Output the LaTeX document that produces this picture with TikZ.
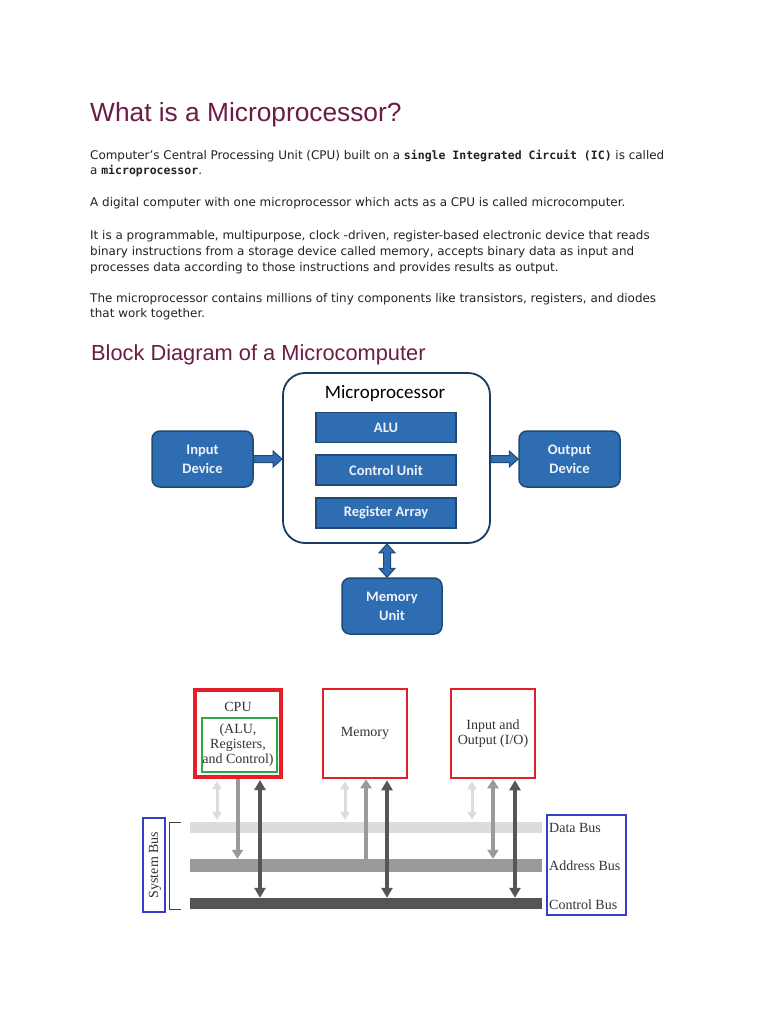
\documentclass[tikz,border=0pt]{standalone}
\usepackage{fontspec}
\usetikzlibrary{arrows.meta,calc}
\newfontfamily\arialf{Liberation Sans}
\newfontfamily\verdf{DejaVu Sans}
\newfontfamily\monof{DejaVu Sans Mono}
\newfontfamily\calibf{Carlito}
\newfontfamily\timesf{Liberation Serif}
\definecolor{ttl}{HTML}{6B1D45}
\definecolor{bodyc}{HTML}{222222}
\definecolor{blueF}{HTML}{2E6DB2}
\definecolor{blueD}{HTML}{1F4A75}
\definecolor{boxtxt}{HTML}{EEF2F8}
\definecolor{redB}{HTML}{E3202A}
\definecolor{greenB}{HTML}{2FA84B}
\definecolor{blueB}{HTML}{3B3BC6}
\definecolor{busL}{HTML}{DCDCDC}
\definecolor{busM}{HTML}{9A9A9A}
\definecolor{busD}{HTML}{555555}
\definecolor{srf}{HTML}{333333}
\newcommand{\monob}[1]{{\monof\bfseries\fontsize{11.5}{12}\selectfont #1}}
\tikzset{
  bodyline/.style={anchor=base west, inner sep=0pt, text=bodyc, font=\verdf\fontsize{11.95}{14}\selectfont},
  heading/.style={anchor=base west, inner sep=0pt, text=ttl},
  bluebox/.style={draw=blueD, line width=1.5pt, fill=blueF, rounded corners=8pt, text=boxtxt, align=center,
    font=\calibf\bfseries\fontsize{14.5}{19}\selectfont, inner sep=0pt},
  inbox/.style={draw=blueD, line width=1.5pt, fill=blueF, text=boxtxt, minimum width=140pt, minimum height=30pt,
    font=\calibf\bfseries\fontsize{14.5}{17}\selectfont, inner sep=0pt},
  blockarrow/.style={draw=blueD, line width=1pt, fill=blueF, line join=miter},
  redbox/.style={draw=redB, inner sep=0pt, text=srf, align=center, font=\timesf\fontsize{14}{15}\selectfont},
  bar/.style={inner sep=0pt, minimum width=352pt},
  busarrL/.style={draw=busL, line width=3pt, {Triangle[width=9pt,length=8pt]}-{Triangle[width=9pt,length=8pt]}},
  busarrM/.style={draw=busM, line width=4pt},
  busarrD/.style={draw=busD, line width=4.5pt, {Triangle[width=11pt,length=10pt]}-{Triangle[width=11pt,length=10pt]}},
  buslabel/.style={anchor=base west, inner sep=0pt, text=srf, font=\timesf\fontsize{14}{15}\selectfont},
}
\begin{document}
\begin{tikzpicture}[x=1pt,y=-1pt]
\useasboundingbox[fill=white] (0,0) rectangle (768,1024);

% ---------- Headings and text ----------
\node[heading, font=\arialf\fontsize{26.3}{30}\selectfont] (t1) at (90,122) {What is a Microprocessor?};
\node[bodyline] (l1) at (90,159.5) {Computer’s Central Processing Unit (CPU) built on a \monob{single Integrated Circuit (IC)} is called};
\node[bodyline] (l2) at (90,174.5) {a \monob{microprocessor}.};
\node[bodyline] (l3) at (90,207) {A digital computer with one microprocessor which acts as a CPU is called microcomputer.};
\node[bodyline] (l4) at (90,240) {It is a programmable, multipurpose, clock -driven, register-based electronic device that reads};
\node[bodyline] (l5) at (90,255.5) {binary instructions from a storage device called memory, accepts binary data as input and};
\node[bodyline] (l6) at (90,271) {processes data according to those instructions and provides results as output.};
\node[bodyline] (l7) at (90,302.5) {The microprocessor contains millions of tiny components like transistors, registers, and diodes};
\node[bodyline] (l8) at (90,317.5) {that work together.};
\node[heading, font=\arialf\fontsize{21.8}{26}\selectfont] (t2) at (91,360) {Block Diagram of a Microcomputer};

% ---------- Block diagram ----------
\node[draw=blueD!80!black, line width=1.8pt, fill=white, rounded corners=22pt, minimum width=207pt, minimum height=170pt, inner sep=0pt] (mp) at (386.5,458) {};
\node[inner sep=0pt, font=\calibf\fontsize{19}{22}\selectfont, text=black] (mpl) at (385,393) {Microprocessor};
\node[inbox] (alu) at (386,427.5) {ALU};
\node[inbox] (cu) at (386,470) {Control Unit};
\node[inbox] (ra) at (386,513) {Register Array};
\node[bluebox, minimum width=101pt, minimum height=56pt] (inp) at (202.5,459) {Input\\Device};
\node[bluebox, minimum width=101pt, minimum height=56pt] (outp) at (569.5,459) {Output\\Device};
\node[bluebox, minimum width=100pt, minimum height=56pt] (mem) at (392,606) {Memory\\Unit};

% block arrows
\path[blockarrow] let \p1=(inp.east), \p2=(mp.west) in
  (\x1,{\y1+3.5pt}) -- ({\x2-9pt},{\y1+3.5pt}) -- ({\x2-9pt},{\y1+8pt}) -- (\x2,\y1)
  -- ({\x2-9pt},{\y1-8pt}) -- ({\x2-9pt},{\y1-3.5pt}) -- (\x1,{\y1-3.5pt}) -- cycle;
\path[blockarrow] let \p1=(mp.east), \p2=(outp.west) in
  (\x1,{\y2+3.5pt}) -- ({\x2-9pt},{\y2+3.5pt}) -- ({\x2-9pt},{\y2+8pt}) -- (\x2,\y2)
  -- ({\x2-9pt},{\y2-8pt}) -- ({\x2-9pt},{\y2-3.5pt}) -- (\x1,{\y2-3.5pt}) -- cycle;
\path[blockarrow] let \p1=([xshift=0.5pt]mp.south), \p2=(mem.north) in
  (\x1,\y1) -- ({\x1+8pt},{\y1-9pt}) -- ({\x1+3.5pt},{\y1-9pt}) -- ({\x1+3.5pt},{\y2+9pt})
  -- ({\x1+8pt},{\y2+9pt}) -- (\x1,\y2) -- ({\x1-8pt},{\y2+9pt}) -- ({\x1-3.5pt},{\y2+9pt})
  -- ({\x1-3.5pt},{\y1-9pt}) -- ({\x1-8pt},{\y1-9pt}) -- cycle;

% ---------- System bus diagram ----------
\node[bar, fill=busL, minimum height=11pt] (data) at (366,827.5) {};
\node[bar, fill=busM, minimum height=13pt] (addr) at (366,865.5) {};
\node[bar, fill=busD, minimum height=11pt] (ctrl) at (366,903.5) {};

\node[redbox, line width=4pt, minimum width=86pt, minimum height=87pt] (cpu) at (238,733.5) {};
\node[draw=greenB, line width=2pt, minimum width=75pt, minimum height=54pt, inner sep=0pt] (grn) at (239.5,745) {};
\node[inner sep=0pt, text=srf, font=\timesf\fontsize{14}{15}\selectfont] (cpul) at (238,707) {CPU};
\node[inner sep=0pt, text=srf, align=center, font=\timesf\fontsize{14}{15}\selectfont] (cpui) at (238,745.5) {(ALU,\\Registers,\\and Control)};
\node[redbox, line width=2.5pt, minimum width=84pt, minimum height=89pt] (memb) at (365,733.5) {Memory};
\node[redbox, line width=2.5pt, minimum width=84pt, minimum height=89pt] (io) at (493,733.5) {Input and\\Output (I/O)};

% bus arrows
\draw[busarrL, shorten <=2pt, shorten >=2pt] ([xshift=-21pt]cpu.south) -- ([xshift=-21pt]cpu.south |- data.north);
\draw[busarrM, -{Triangle[width=11pt,length=9pt]}] ([xshift=-0.5pt]cpu.south) -- ([xshift=-0.5pt]cpu.south |- addr.north);
\draw[busarrD, shorten <=1pt] ([xshift=22pt]cpu.south) -- ([xshift=22pt]cpu.south |- ctrl.north);

\draw[busarrL, shorten <=2pt, shorten >=2pt] ([xshift=-20pt]memb.south) -- ([xshift=-20pt]memb.south |- data.north);
\draw[busarrM, -{Triangle[width=11pt,length=9pt]}] ([xshift=1pt]memb.south |- addr.north) -- ([xshift=1pt]memb.south);
\draw[busarrD, shorten <=1pt] ([xshift=22pt]memb.south) -- ([xshift=22pt]memb.south |- ctrl.north);

\draw[busarrL, shorten <=2pt, shorten >=2pt] ([xshift=-21pt]io.south) -- ([xshift=-21pt]io.south |- data.north);
\draw[busarrM, {Triangle[width=11pt,length=9pt]}-{Triangle[width=11pt,length=9pt]}] (io.south) -- (io.south |- addr.north);
\draw[busarrD, shorten <=1pt] ([xshift=22pt]io.south) -- ([xshift=22pt]io.south |- ctrl.north);

% labels
\node[draw=blueB, line width=2.5pt, minimum width=79pt, minimum height=100pt, inner sep=0pt] (lbl) at (586.5,865) {};
\node[buslabel] (dbl) at (549,832) {Data Bus};
\node[buslabel] (abl) at (549,870) {Address Bus};
\node[buslabel] (cbl) at (549,909) {Control Bus};

\node[draw=blueB, line width=2.5pt, minimum width=22pt, minimum height=94pt, inner sep=0pt] (sysb) at (154,865) {};
\node[rotate=90, inner sep=0pt, text=srf, font=\timesf\fontsize{14}{15}\selectfont] (sysl) at (155,865) {System Bus};
\coordinate (bt) at (181,822);
\coordinate (bb) at (181,909);
\draw[line width=0.9pt, draw=black!75] (bt) -- ++(-12,0) |- (bb);
\end{tikzpicture}
\end{document}
